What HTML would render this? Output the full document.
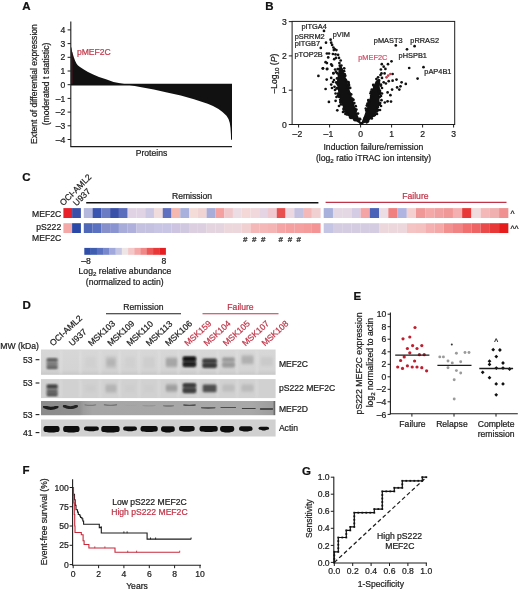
<!DOCTYPE html>
<html><head><meta charset="utf-8"><title>Figure</title>
<style>html,body{margin:0;padding:0;background:#fff;} svg{display:block;} text{font-family:'Liberation Sans', Arial, Helvetica, sans-serif;stroke-width:0.22px;}</style></head>
<body><svg width="520" height="591" viewBox="0 0 520 591">
<rect width="520" height="591" fill="#fff"/>
<text x="22.3" y="9.6" font-size="11.5" text-anchor="start" fill="#111" stroke="#111" font-weight="bold" >A</text>
<text x="265.3" y="9.6" font-size="11.5" text-anchor="start" fill="#111" stroke="#111" font-weight="bold" >B</text>
<text x="22.2" y="181.2" font-size="11.5" text-anchor="start" fill="#111" stroke="#111" font-weight="bold" >C</text>
<text x="22.4" y="309.4" font-size="11.5" text-anchor="start" fill="#111" stroke="#111" font-weight="bold" >D</text>
<text x="353.6" y="300.4" font-size="11.5" text-anchor="start" fill="#111" stroke="#111" font-weight="bold" >E</text>
<text x="22.6" y="474.4" font-size="11.5" text-anchor="start" fill="#111" stroke="#111" font-weight="bold" >F</text>
<text x="302.0" y="475.2" font-size="11.5" text-anchor="start" fill="#111" stroke="#111" font-weight="bold" >G</text>
<path d="M71,84.6 L71,47 L71.3,48 L71.6,50 L72.4,52.7 L74,57.8 L75.2,61 L76.6,63.7 L78,65.5 L80,67 L84.2,69.7 L88,71.9 L93.2,74.4 L99,76.9 L106,79.2 L113.5,81.9 L120,83.3 L127,84.6 L140,87 L153.8,89.4 L167,92.5 L180.8,95.6 L194,99.3 L207.7,103.7 L213,106 L218.5,109 L222.5,112 L226.5,115.8 L228.5,119 L229.8,123 L230.5,128 L230.9,134 L231.1,139.8 L232,139.8 L232,84.6 Z" fill="#111"/>
<path d="M71,84.6 L71,47 L71.3,48 L71.6,50 L72.4,52.7 L72.6,84.6 Z" fill="#4a1820"/>
<line x1="71.0" y1="84.6" x2="232.0" y2="84.6" stroke="#111" stroke-width="1.6" />
<line x1="70.8" y1="21.4" x2="70.8" y2="146.6" stroke="#1c1c1c" stroke-width="1.1" />
<line x1="70.3" y1="146.6" x2="232.0" y2="146.6" stroke="#1c1c1c" stroke-width="1.1" />
<line x1="67.6" y1="139.5" x2="70.8" y2="139.5" stroke="#1c1c1c" stroke-width="1" />
<text x="65.2" y="142.6" font-size="8.6" text-anchor="end" fill="#1c1c1c" stroke="#1c1c1c" font-weight="normal" >–4</text>
<line x1="67.6" y1="125.8" x2="70.8" y2="125.8" stroke="#1c1c1c" stroke-width="1" />
<text x="65.2" y="128.9" font-size="8.6" text-anchor="end" fill="#1c1c1c" stroke="#1c1c1c" font-weight="normal" >–3</text>
<line x1="67.6" y1="112.1" x2="70.8" y2="112.1" stroke="#1c1c1c" stroke-width="1" />
<text x="65.2" y="115.2" font-size="8.6" text-anchor="end" fill="#1c1c1c" stroke="#1c1c1c" font-weight="normal" >–2</text>
<line x1="67.6" y1="98.4" x2="70.8" y2="98.4" stroke="#1c1c1c" stroke-width="1" />
<text x="65.2" y="101.5" font-size="8.6" text-anchor="end" fill="#1c1c1c" stroke="#1c1c1c" font-weight="normal" >–1</text>
<line x1="67.6" y1="84.7" x2="70.8" y2="84.7" stroke="#1c1c1c" stroke-width="1" />
<text x="65.2" y="87.8" font-size="8.6" text-anchor="end" fill="#1c1c1c" stroke="#1c1c1c" font-weight="normal" >0</text>
<line x1="67.6" y1="71.0" x2="70.8" y2="71.0" stroke="#1c1c1c" stroke-width="1" />
<text x="65.2" y="74.1" font-size="8.6" text-anchor="end" fill="#1c1c1c" stroke="#1c1c1c" font-weight="normal" >1</text>
<line x1="67.6" y1="57.3" x2="70.8" y2="57.3" stroke="#1c1c1c" stroke-width="1" />
<text x="65.2" y="60.4" font-size="8.6" text-anchor="end" fill="#1c1c1c" stroke="#1c1c1c" font-weight="normal" >2</text>
<line x1="67.6" y1="43.6" x2="70.8" y2="43.6" stroke="#1c1c1c" stroke-width="1" />
<text x="65.2" y="46.7" font-size="8.6" text-anchor="end" fill="#1c1c1c" stroke="#1c1c1c" font-weight="normal" >3</text>
<line x1="67.6" y1="29.9" x2="70.8" y2="29.9" stroke="#1c1c1c" stroke-width="1" />
<text x="65.2" y="33.0" font-size="8.6" text-anchor="end" fill="#1c1c1c" stroke="#1c1c1c" font-weight="normal" >4</text>
<text x="76.9" y="55.2" font-size="8.6" text-anchor="start" fill="#c23a4c" stroke="#c23a4c" font-weight="normal" >pMEF2C</text>
<text x="151.5" y="156.2" font-size="8.6" text-anchor="middle" fill="#1c1c1c" stroke="#1c1c1c" font-weight="normal" >Proteins</text>
<text transform="translate(37.2,84.0) rotate(-90)" font-size="8.6" text-anchor="middle" fill="#1c1c1c" stroke="#1c1c1c" >Extent of differential expression</text>
<text transform="translate(48.7,84.0) rotate(-90)" font-size="8.6" text-anchor="middle" fill="#1c1c1c" stroke="#1c1c1c" >(moderated t statistic)</text>
<rect x="292.1" y="21.4" width="162.59999999999997" height="103.1" fill="none" stroke="#1c1c1c" stroke-width="1"/>
<line x1="288.8" y1="124.5" x2="292.1" y2="124.5" stroke="#1c1c1c" stroke-width="1" />
<text x="286.8" y="127.6" font-size="8.6" text-anchor="end" fill="#1c1c1c" stroke="#1c1c1c" font-weight="normal" >0</text>
<line x1="288.8" y1="90.2" x2="292.1" y2="90.2" stroke="#1c1c1c" stroke-width="1" />
<text x="286.8" y="93.3" font-size="8.6" text-anchor="end" fill="#1c1c1c" stroke="#1c1c1c" font-weight="normal" >1</text>
<line x1="288.8" y1="55.9" x2="292.1" y2="55.9" stroke="#1c1c1c" stroke-width="1" />
<text x="286.8" y="59.0" font-size="8.6" text-anchor="end" fill="#1c1c1c" stroke="#1c1c1c" font-weight="normal" >2</text>
<line x1="288.8" y1="21.6" x2="292.1" y2="21.6" stroke="#1c1c1c" stroke-width="1" />
<text x="286.8" y="24.7" font-size="8.6" text-anchor="end" fill="#1c1c1c" stroke="#1c1c1c" font-weight="normal" >3</text>
<line x1="298.6" y1="124.5" x2="298.6" y2="127.5" stroke="#1c1c1c" stroke-width="1" />
<text x="297.4" y="136.9" font-size="8.6" text-anchor="middle" fill="#1c1c1c" stroke="#1c1c1c" font-weight="normal" >–2</text>
<line x1="329.6" y1="124.5" x2="329.6" y2="127.5" stroke="#1c1c1c" stroke-width="1" />
<text x="328.4" y="136.9" font-size="8.6" text-anchor="middle" fill="#1c1c1c" stroke="#1c1c1c" font-weight="normal" >–1</text>
<line x1="360.6" y1="124.5" x2="360.6" y2="127.5" stroke="#1c1c1c" stroke-width="1" />
<text x="360.6" y="136.9" font-size="8.6" text-anchor="middle" fill="#1c1c1c" stroke="#1c1c1c" font-weight="normal" >0</text>
<line x1="391.6" y1="124.5" x2="391.6" y2="127.5" stroke="#1c1c1c" stroke-width="1" />
<text x="391.6" y="136.9" font-size="8.6" text-anchor="middle" fill="#1c1c1c" stroke="#1c1c1c" font-weight="normal" >1</text>
<line x1="422.6" y1="124.5" x2="422.6" y2="127.5" stroke="#1c1c1c" stroke-width="1" />
<text x="422.6" y="136.9" font-size="8.6" text-anchor="middle" fill="#1c1c1c" stroke="#1c1c1c" font-weight="normal" >2</text>
<line x1="453.6" y1="124.5" x2="453.6" y2="127.5" stroke="#1c1c1c" stroke-width="1" />
<text x="453.6" y="136.9" font-size="8.6" text-anchor="middle" fill="#1c1c1c" stroke="#1c1c1c" font-weight="normal" >3</text>
<text x="373.4" y="149.6" font-size="8.6" text-anchor="middle" fill="#1c1c1c" stroke="#1c1c1c" font-weight="normal" >Induction failure/remission</text>
<text x="373.6" y="160.7" font-size="8.6" text-anchor="middle" fill="#1c1c1c" stroke="#1c1c1c" font-weight="normal" >(log<tspan font-size="6.2" dy="2">2</tspan><tspan dy="-2"> ratio iTRAC ion intensity)</tspan></text>
<text transform="translate(276.9,73.6) rotate(-90)" font-size="8.6" text-anchor="middle" fill="#1c1c1c" stroke="#1c1c1c">–Log<tspan font-size="6.2" dy="1.8">10</tspan><tspan dy="-1.8"> (</tspan><tspan font-style="italic">P</tspan>)</text>
<path d="M361.3,124.4 L358,122.6 L347.9,115.9 L341.8,104.7 L338.4,93.5 L336.8,82.3 L338.4,71.2 L339.5,66 L341.5,66 L343.5,71.2 L347.4,82.3 L350.7,93.5 L354.1,104.7 L358,115.9 L361,122.8 L361.6,124.4 Z" fill="#111"/>
<path d="M360.6,124.4 L364.1,115.9 L368,104.7 L370.8,93.5 L373.6,85.7 L375.9,80.7 L378,79.5 L380.3,81.8 L379.8,85.7 L379.2,93.5 L379.8,104.7 L374.8,115.9 L367,122 L361.2,124.6 Z" fill="#111"/>
<g><circle cx="336.8" cy="88.5" r="1.35" fill="#111"/><circle cx="350.3" cy="117.1" r="1.35" fill="#111"/><circle cx="351.8" cy="117.3" r="1.35" fill="#111"/><circle cx="336.9" cy="73.1" r="1.35" fill="#111"/><circle cx="338.6" cy="74.4" r="1.35" fill="#111"/><circle cx="340.9" cy="101.9" r="1.35" fill="#111"/><circle cx="344.2" cy="74.9" r="1.35" fill="#111"/><circle cx="353.8" cy="118.8" r="1.35" fill="#111"/><circle cx="343.8" cy="109.7" r="1.35" fill="#111"/><circle cx="352.9" cy="103.5" r="1.35" fill="#111"/><circle cx="346.8" cy="81.5" r="1.35" fill="#111"/><circle cx="350.2" cy="117.4" r="1.35" fill="#111"/><circle cx="348.5" cy="86.0" r="1.35" fill="#111"/><circle cx="344.7" cy="74.4" r="1.35" fill="#111"/><circle cx="353.3" cy="100.0" r="1.35" fill="#111"/><circle cx="344.4" cy="74.4" r="1.35" fill="#111"/><circle cx="349.9" cy="93.7" r="1.35" fill="#111"/><circle cx="346.2" cy="113.7" r="1.35" fill="#111"/><circle cx="344.3" cy="108.1" r="1.35" fill="#111"/><circle cx="348.8" cy="85.2" r="1.35" fill="#111"/><circle cx="355.7" cy="111.1" r="1.35" fill="#111"/><circle cx="345.3" cy="75.8" r="1.35" fill="#111"/><circle cx="355.7" cy="106.2" r="1.35" fill="#111"/><circle cx="347.0" cy="85.0" r="1.35" fill="#111"/><circle cx="348.6" cy="83.1" r="1.35" fill="#111"/><circle cx="338.1" cy="93.6" r="1.35" fill="#111"/><circle cx="355.5" cy="120.2" r="1.35" fill="#111"/><circle cx="345.4" cy="113.9" r="1.35" fill="#111"/><circle cx="345.1" cy="111.6" r="1.35" fill="#111"/><circle cx="355.0" cy="110.0" r="1.35" fill="#111"/><circle cx="344.1" cy="71.2" r="1.35" fill="#111"/><circle cx="355.1" cy="109.0" r="1.35" fill="#111"/><circle cx="337.9" cy="84.8" r="1.35" fill="#111"/><circle cx="343.6" cy="108.7" r="1.35" fill="#111"/><circle cx="340.2" cy="99.8" r="1.35" fill="#111"/><circle cx="337.9" cy="95.7" r="1.35" fill="#111"/><circle cx="337.0" cy="83.4" r="1.35" fill="#111"/><circle cx="349.0" cy="88.0" r="1.35" fill="#111"/><circle cx="347.4" cy="86.9" r="1.35" fill="#111"/><circle cx="353.2" cy="99.6" r="1.35" fill="#111"/><circle cx="337.0" cy="78.4" r="1.35" fill="#111"/><circle cx="345.8" cy="79.8" r="1.35" fill="#111"/><circle cx="340.4" cy="102.2" r="1.35" fill="#111"/><circle cx="351.1" cy="118.0" r="1.35" fill="#111"/><circle cx="347.1" cy="113.9" r="1.35" fill="#111"/><circle cx="356.4" cy="109.6" r="1.35" fill="#111"/><circle cx="339.2" cy="96.9" r="1.35" fill="#111"/><circle cx="346.9" cy="113.8" r="1.35" fill="#111"/><circle cx="338.6" cy="69.0" r="1.35" fill="#111"/><circle cx="347.0" cy="114.4" r="1.35" fill="#111"/><circle cx="353.4" cy="103.8" r="1.35" fill="#111"/><circle cx="359.7" cy="118.9" r="1.35" fill="#111"/><circle cx="341.8" cy="69.7" r="1.35" fill="#111"/><circle cx="361.7" cy="123.3" r="1.35" fill="#111"/><circle cx="338.9" cy="95.3" r="1.35" fill="#111"/><circle cx="352.1" cy="98.5" r="1.35" fill="#111"/><circle cx="336.9" cy="88.2" r="1.35" fill="#111"/><circle cx="360.8" cy="123.5" r="1.35" fill="#111"/><circle cx="354.3" cy="103.0" r="1.35" fill="#111"/><circle cx="341.4" cy="65.5" r="1.35" fill="#111"/><circle cx="354.5" cy="120.0" r="1.35" fill="#111"/><circle cx="350.2" cy="87.9" r="1.35" fill="#111"/><circle cx="360.1" cy="119.2" r="1.35" fill="#111"/><circle cx="336.2" cy="82.3" r="1.35" fill="#111"/><circle cx="340.9" cy="104.4" r="1.35" fill="#111"/><circle cx="358.0" cy="113.6" r="1.35" fill="#111"/><circle cx="348.4" cy="82.1" r="1.35" fill="#111"/><circle cx="348.9" cy="84.7" r="1.35" fill="#111"/><circle cx="351.2" cy="94.4" r="1.35" fill="#111"/><circle cx="352.3" cy="100.7" r="1.35" fill="#111"/><circle cx="365.0" cy="118.1" r="1.35" fill="#111"/><circle cx="366.7" cy="119.8" r="1.35" fill="#111"/><circle cx="367.3" cy="105.3" r="1.35" fill="#111"/><circle cx="374.8" cy="115.0" r="1.35" fill="#111"/><circle cx="365.2" cy="117.3" r="1.35" fill="#111"/><circle cx="378.7" cy="89.9" r="1.35" fill="#111"/><circle cx="365.6" cy="118.4" r="1.35" fill="#111"/><circle cx="366.7" cy="122.3" r="1.35" fill="#111"/><circle cx="374.1" cy="115.5" r="1.35" fill="#111"/><circle cx="371.8" cy="89.6" r="1.35" fill="#111"/><circle cx="371.0" cy="91.7" r="1.35" fill="#111"/><circle cx="368.1" cy="120.8" r="1.35" fill="#111"/><circle cx="380.0" cy="94.0" r="1.35" fill="#111"/><circle cx="367.8" cy="121.4" r="1.35" fill="#111"/><circle cx="378.6" cy="88.4" r="1.35" fill="#111"/><circle cx="368.3" cy="100.0" r="1.35" fill="#111"/><circle cx="369.0" cy="100.8" r="1.35" fill="#111"/><circle cx="379.0" cy="91.7" r="1.35" fill="#111"/><circle cx="379.9" cy="90.7" r="1.35" fill="#111"/><circle cx="378.8" cy="91.5" r="1.35" fill="#111"/><circle cx="376.8" cy="111.5" r="1.35" fill="#111"/><circle cx="378.1" cy="110.2" r="1.35" fill="#111"/><circle cx="379.4" cy="96.9" r="1.35" fill="#111"/><circle cx="379.7" cy="104.6" r="1.35" fill="#111"/><circle cx="380.9" cy="84.6" r="1.35" fill="#111"/><circle cx="371.8" cy="118.5" r="1.35" fill="#111"/><circle cx="380.2" cy="92.6" r="1.35" fill="#111"/><circle cx="367.5" cy="103.5" r="1.35" fill="#111"/><circle cx="365.8" cy="108.6" r="1.35" fill="#111"/><circle cx="380.2" cy="103.1" r="1.35" fill="#111"/><circle cx="369.1" cy="102.3" r="1.35" fill="#111"/><circle cx="369.2" cy="104.0" r="1.35" fill="#111"/><circle cx="371.1" cy="95.8" r="1.35" fill="#111"/><circle cx="380.9" cy="85.7" r="1.35" fill="#111"/><circle cx="368.7" cy="101.4" r="1.35" fill="#111"/><circle cx="373.2" cy="84.9" r="1.35" fill="#111"/><circle cx="377.8" cy="107.2" r="1.35" fill="#111"/><circle cx="378.5" cy="80.7" r="1.35" fill="#111"/><circle cx="379.5" cy="97.1" r="1.35" fill="#111"/><circle cx="365.3" cy="118.1" r="1.35" fill="#111"/><circle cx="366.9" cy="105.6" r="1.35" fill="#111"/><circle cx="376.1" cy="111.2" r="1.35" fill="#111"/><circle cx="379.1" cy="80.4" r="1.35" fill="#111"/><circle cx="370.5" cy="93.3" r="1.35" fill="#111"/><circle cx="379.6" cy="92.1" r="1.35" fill="#111"/><circle cx="366.3" cy="110.6" r="1.35" fill="#111"/><circle cx="367.2" cy="109.7" r="1.35" fill="#111"/><circle cx="374.8" cy="114.7" r="1.35" fill="#111"/><circle cx="366.9" cy="109.8" r="1.35" fill="#111"/><circle cx="373.9" cy="86.1" r="1.35" fill="#111"/><circle cx="324.0" cy="30.9" r="1.35" fill="#111"/><circle cx="330.6" cy="39.7" r="1.35" fill="#111"/><circle cx="326.0" cy="42.7" r="1.35" fill="#111"/><circle cx="331.2" cy="42.7" r="1.35" fill="#111"/><circle cx="332.1" cy="44.9" r="1.35" fill="#111"/><circle cx="320.8" cy="47.9" r="1.35" fill="#111"/><circle cx="333.4" cy="47.5" r="1.35" fill="#111"/><circle cx="334.7" cy="49.2" r="1.35" fill="#111"/><circle cx="336.4" cy="50.1" r="1.35" fill="#111"/><circle cx="333.8" cy="50.1" r="1.35" fill="#111"/><circle cx="326.9" cy="53.5" r="1.35" fill="#111"/><circle cx="329.0" cy="53.5" r="1.35" fill="#111"/><circle cx="332.9" cy="54.0" r="1.35" fill="#111"/><circle cx="335.5" cy="54.4" r="1.35" fill="#111"/><circle cx="338.1" cy="54.8" r="1.35" fill="#111"/><circle cx="328.2" cy="57.4" r="1.35" fill="#111"/><circle cx="334.2" cy="59.2" r="1.35" fill="#111"/><circle cx="336.0" cy="57.9" r="1.35" fill="#111"/><circle cx="339.0" cy="57.9" r="1.35" fill="#111"/><circle cx="340.7" cy="60.5" r="1.35" fill="#111"/><circle cx="325.6" cy="62.2" r="1.35" fill="#111"/><circle cx="326.9" cy="63.1" r="1.35" fill="#111"/><circle cx="331.2" cy="64.4" r="1.35" fill="#111"/><circle cx="332.1" cy="65.7" r="1.35" fill="#111"/><circle cx="339.4" cy="63.1" r="1.35" fill="#111"/><circle cx="339.8" cy="65.7" r="1.35" fill="#111"/><circle cx="323.0" cy="68.3" r="1.35" fill="#111"/><circle cx="326.9" cy="69.1" r="1.35" fill="#111"/><circle cx="335.1" cy="69.5" r="1.35" fill="#111"/><circle cx="337.7" cy="69.1" r="1.35" fill="#111"/><circle cx="344.2" cy="68.3" r="1.35" fill="#111"/><circle cx="333.4" cy="73.0" r="1.35" fill="#111"/><circle cx="336.0" cy="71.7" r="1.35" fill="#111"/><circle cx="341.1" cy="72.1" r="1.35" fill="#111"/><circle cx="342.4" cy="72.1" r="1.35" fill="#111"/><circle cx="322.8" cy="68.4" r="1.35" fill="#111"/><circle cx="327.3" cy="68.9" r="1.35" fill="#111"/><circle cx="333.4" cy="73.4" r="1.35" fill="#111"/><circle cx="326.7" cy="79.6" r="1.35" fill="#111"/><circle cx="331.2" cy="77.9" r="1.35" fill="#111"/><circle cx="331.2" cy="84.6" r="1.35" fill="#111"/><circle cx="325.6" cy="89.0" r="1.35" fill="#111"/><circle cx="334.5" cy="86.8" r="1.35" fill="#111"/><circle cx="335.6" cy="93.5" r="1.35" fill="#111"/><circle cx="328.9" cy="101.9" r="1.35" fill="#111"/><circle cx="335.6" cy="100.8" r="1.35" fill="#111"/><circle cx="337.3" cy="110.3" r="1.35" fill="#111"/><circle cx="318.4" cy="75.9" r="1.35" fill="#111"/><circle cx="334.0" cy="80.0" r="1.35" fill="#111"/><circle cx="335.0" cy="90.0" r="1.35" fill="#111"/><circle cx="336.5" cy="97.0" r="1.35" fill="#111"/><circle cx="339.0" cy="106.0" r="1.35" fill="#111"/><circle cx="343.0" cy="112.0" r="1.35" fill="#111"/><circle cx="333.0" cy="82.0" r="1.35" fill="#111"/><circle cx="332.0" cy="88.0" r="1.35" fill="#111"/><circle cx="381.8" cy="64.2" r="1.35" fill="#111"/><circle cx="388.0" cy="64.2" r="1.35" fill="#111"/><circle cx="391.5" cy="61.3" r="1.35" fill="#111"/><circle cx="383.7" cy="66.7" r="1.35" fill="#111"/><circle cx="380.9" cy="69.5" r="1.35" fill="#111"/><circle cx="385.4" cy="68.9" r="1.35" fill="#111"/><circle cx="381.5" cy="73.4" r="1.35" fill="#111"/><circle cx="384.6" cy="73.4" r="1.35" fill="#111"/><circle cx="392.6" cy="74.0" r="1.35" fill="#111"/><circle cx="378.1" cy="77.3" r="1.35" fill="#111"/><circle cx="376.4" cy="79.0" r="1.35" fill="#111"/><circle cx="382.0" cy="77.9" r="1.35" fill="#111"/><circle cx="383.7" cy="82.3" r="1.35" fill="#111"/><circle cx="385.9" cy="83.5" r="1.35" fill="#111"/><circle cx="388.7" cy="81.2" r="1.35" fill="#111"/><circle cx="392.6" cy="80.7" r="1.35" fill="#111"/><circle cx="396.5" cy="79.6" r="1.35" fill="#111"/><circle cx="401.6" cy="82.3" r="1.35" fill="#111"/><circle cx="397.1" cy="87.4" r="1.35" fill="#111"/><circle cx="400.5" cy="86.3" r="1.35" fill="#111"/><circle cx="399.3" cy="89.6" r="1.35" fill="#111"/><circle cx="392.1" cy="89.6" r="1.35" fill="#111"/><circle cx="382.0" cy="93.5" r="1.35" fill="#111"/><circle cx="387.6" cy="92.4" r="1.35" fill="#111"/><circle cx="390.4" cy="95.2" r="1.35" fill="#111"/><circle cx="381.5" cy="100.2" r="1.35" fill="#111"/><circle cx="384.8" cy="102.5" r="1.35" fill="#111"/><circle cx="387.6" cy="101.3" r="1.35" fill="#111"/><circle cx="391.0" cy="101.6" r="1.35" fill="#111"/><circle cx="381.0" cy="106.0" r="1.35" fill="#111"/><circle cx="380.0" cy="110.0" r="1.35" fill="#111"/><circle cx="377.0" cy="114.0" r="1.35" fill="#111"/><circle cx="382.0" cy="88.0" r="1.35" fill="#111"/><circle cx="381.0" cy="96.0" r="1.35" fill="#111"/><circle cx="380.5" cy="75.0" r="1.35" fill="#111"/><circle cx="377.5" cy="82.0" r="1.35" fill="#111"/><circle cx="395.8" cy="45.4" r="1.35" fill="#111"/><circle cx="407.0" cy="49.3" r="1.35" fill="#111"/><circle cx="414.6" cy="46.2" r="1.35" fill="#111"/><circle cx="409.2" cy="68.0" r="1.35" fill="#111"/><circle cx="423.5" cy="67.2" r="1.35" fill="#111"/><circle cx="417.6" cy="78.6" r="1.35" fill="#111"/><circle cx="405.8" cy="83.9" r="1.35" fill="#111"/><circle cx="388.2" cy="75.6" r="1.35" fill="#c0404e"/><circle cx="390.4" cy="74.0" r="1.35" fill="#c0404e"/><circle cx="386.5" cy="77.3" r="1.35" fill="#c0404e"/></g>
<text x="301.4" y="28.8" font-size="7.4" text-anchor="start" fill="#1c1c1c" stroke="#1c1c1c" font-weight="normal" >pITGA4</text>
<text x="294.7" y="38.5" font-size="7.4" text-anchor="start" fill="#1c1c1c" stroke="#1c1c1c" font-weight="normal" >pSRRM2</text>
<text x="294.7" y="46.0" font-size="7.4" text-anchor="start" fill="#1c1c1c" stroke="#1c1c1c" font-weight="normal" >pITGB7</text>
<text x="294.5" y="57.2" font-size="7.4" text-anchor="start" fill="#1c1c1c" stroke="#1c1c1c" font-weight="normal" >pTOP2B</text>
<text x="332.7" y="37.2" font-size="7.4" text-anchor="start" fill="#1c1c1c" stroke="#1c1c1c" font-weight="normal" >pVIM</text>
<text x="373.8" y="43.1" font-size="7.4" text-anchor="start" fill="#1c1c1c" stroke="#1c1c1c" font-weight="normal" >pMAST3</text>
<text x="410.3" y="43.1" font-size="7.4" text-anchor="start" fill="#1c1c1c" stroke="#1c1c1c" font-weight="normal" >pRRAS2</text>
<text x="398.6" y="57.7" font-size="7.4" text-anchor="start" fill="#1c1c1c" stroke="#1c1c1c" font-weight="normal" >pHSPB1</text>
<text x="424.3" y="73.8" font-size="7.4" text-anchor="start" fill="#1c1c1c" stroke="#1c1c1c" font-weight="normal" >pAP4B1</text>
<text x="358.2" y="60.4" font-size="7.4" text-anchor="start" fill="#d2506a" stroke="#d2506a" font-weight="normal" >pMEF2C</text>
<rect x="63.40" y="208.10" width="8.75" height="9.90" fill="#e8202a" />
<rect x="72.10" y="208.10" width="8.80" height="9.90" fill="#3a50a8" />
<rect x="83.80" y="208.10" width="8.82" height="9.90" fill="#b4b8dc" />
<rect x="92.57" y="208.10" width="8.82" height="9.90" fill="#3a55b0" />
<rect x="101.34" y="208.10" width="8.82" height="9.90" fill="#6a7cc4" />
<rect x="110.11" y="208.10" width="8.82" height="9.90" fill="#3850a8" />
<rect x="118.88" y="208.10" width="8.82" height="9.90" fill="#5a6cbc" />
<rect x="127.65" y="208.10" width="8.82" height="9.90" fill="#e0d4e4" />
<rect x="136.42" y="208.10" width="8.82" height="9.90" fill="#e0d4e4" />
<rect x="145.19" y="208.10" width="8.82" height="9.90" fill="#ccc8e4" />
<rect x="153.96" y="208.10" width="8.82" height="9.90" fill="#f0dcdc" />
<rect x="162.73" y="208.10" width="8.82" height="9.90" fill="#6070c0" />
<rect x="171.50" y="208.10" width="8.82" height="9.90" fill="#f4b8b0" />
<rect x="180.27" y="208.10" width="8.82" height="9.90" fill="#a8b0dc" />
<rect x="189.04" y="208.10" width="8.82" height="9.90" fill="#f4dcd8" />
<rect x="197.81" y="208.10" width="8.82" height="9.90" fill="#f0d4d4" />
<rect x="206.58" y="208.10" width="8.82" height="9.90" fill="#a8acd8" />
<rect x="215.35" y="208.10" width="8.82" height="9.90" fill="#f4a0a0" />
<rect x="224.12" y="208.10" width="8.82" height="9.90" fill="#f0c8cc" />
<rect x="232.89" y="208.10" width="8.82" height="9.90" fill="#ecdce4" />
<rect x="241.66" y="208.10" width="8.82" height="9.90" fill="#f4d8d8" />
<rect x="250.43" y="208.10" width="8.82" height="9.90" fill="#f0d8dc" />
<rect x="259.20" y="208.10" width="8.82" height="9.90" fill="#e4d4e4" />
<rect x="267.97" y="208.10" width="8.82" height="9.90" fill="#f0c8d0" />
<rect x="276.74" y="208.10" width="8.82" height="9.90" fill="#e85050" />
<rect x="285.51" y="208.10" width="8.82" height="9.90" fill="#ecd8e0" />
<rect x="294.28" y="208.10" width="8.82" height="9.90" fill="#c4c0e0" />
<rect x="303.05" y="208.10" width="8.82" height="9.90" fill="#f4b8b8" />
<rect x="311.82" y="208.10" width="8.82" height="9.90" fill="#f0d0d0" />
<rect x="323.70" y="208.10" width="9.28" height="9.90" fill="#a8b0dc" />
<rect x="332.93" y="208.10" width="9.28" height="9.90" fill="#e4d8e4" />
<rect x="342.16" y="208.10" width="9.28" height="9.90" fill="#e4d8e4" />
<rect x="351.39" y="208.10" width="9.28" height="9.90" fill="#d4cce4" />
<rect x="360.62" y="208.10" width="9.28" height="9.90" fill="#f4a4a4" />
<rect x="369.85" y="208.10" width="9.28" height="9.90" fill="#4a62b8" />
<rect x="379.08" y="208.10" width="9.28" height="9.90" fill="#ecdce4" />
<rect x="388.31" y="208.10" width="9.28" height="9.90" fill="#f08080" />
<rect x="397.54" y="208.10" width="9.28" height="9.90" fill="#b0b4e0" />
<rect x="406.77" y="208.10" width="9.28" height="9.90" fill="#f4d0d0" />
<rect x="416.00" y="208.10" width="9.28" height="9.90" fill="#f09898" />
<rect x="425.23" y="208.10" width="9.28" height="9.90" fill="#f4a8a8" />
<rect x="434.46" y="208.10" width="9.28" height="9.90" fill="#f0a0a0" />
<rect x="443.69" y="208.10" width="9.28" height="9.90" fill="#f09898" />
<rect x="452.92" y="208.10" width="9.28" height="9.90" fill="#f4b0b0" />
<rect x="462.15" y="208.10" width="9.28" height="9.90" fill="#e83838" />
<rect x="471.38" y="208.10" width="9.28" height="9.90" fill="#f0dcdc" />
<rect x="480.61" y="208.10" width="9.28" height="9.90" fill="#f4b8b8" />
<rect x="489.84" y="208.10" width="9.28" height="9.90" fill="#f0b0b0" />
<rect x="499.07" y="208.10" width="9.28" height="9.90" fill="#f09090" />
<rect x="63.40" y="223.20" width="8.75" height="9.80" fill="#f4a8a8" />
<rect x="72.10" y="223.20" width="8.80" height="9.80" fill="#2a48a8" />
<rect x="83.80" y="223.20" width="8.82" height="9.80" fill="#5068b8" />
<rect x="92.57" y="223.20" width="8.82" height="9.80" fill="#5a70c0" />
<rect x="101.34" y="223.20" width="8.82" height="9.80" fill="#8890cc" />
<rect x="110.11" y="223.20" width="8.82" height="9.80" fill="#8a94d0" />
<rect x="118.88" y="223.20" width="8.82" height="9.80" fill="#a8acd8" />
<rect x="127.65" y="223.20" width="8.82" height="9.80" fill="#b0b0dc" />
<rect x="136.42" y="223.20" width="8.82" height="9.80" fill="#c4c0e0" />
<rect x="145.19" y="223.20" width="8.82" height="9.80" fill="#c4c0e0" />
<rect x="153.96" y="223.20" width="8.82" height="9.80" fill="#c8c4e4" />
<rect x="162.73" y="223.20" width="8.82" height="9.80" fill="#c8c4e4" />
<rect x="171.50" y="223.20" width="8.82" height="9.80" fill="#ccc4e0" />
<rect x="180.27" y="223.20" width="8.82" height="9.80" fill="#d0c8e0" />
<rect x="189.04" y="223.20" width="8.82" height="9.80" fill="#dcd0e0" />
<rect x="197.81" y="223.20" width="8.82" height="9.80" fill="#dcd0e0" />
<rect x="206.58" y="223.20" width="8.82" height="9.80" fill="#e4d4e0" />
<rect x="215.35" y="223.20" width="8.82" height="9.80" fill="#e4d4e0" />
<rect x="224.12" y="223.20" width="8.82" height="9.80" fill="#ecd8dc" />
<rect x="232.89" y="223.20" width="8.82" height="9.80" fill="#ecd8dc" />
<rect x="241.66" y="223.20" width="8.82" height="9.80" fill="#f0d0d0" />
<rect x="250.43" y="223.20" width="8.82" height="9.80" fill="#f4b8b8" />
<rect x="259.20" y="223.20" width="8.82" height="9.80" fill="#f4b8b8" />
<rect x="267.97" y="223.20" width="8.82" height="9.80" fill="#f4b4b4" />
<rect x="276.74" y="223.20" width="8.82" height="9.80" fill="#f4a4a4" />
<rect x="285.51" y="223.20" width="8.82" height="9.80" fill="#f4a0a0" />
<rect x="294.28" y="223.20" width="8.82" height="9.80" fill="#f4a0a0" />
<rect x="303.05" y="223.20" width="8.82" height="9.80" fill="#f49c9c" />
<rect x="311.82" y="223.20" width="8.82" height="9.80" fill="#f49494" />
<rect x="323.70" y="223.20" width="9.28" height="9.80" fill="#c4c4e4" />
<rect x="332.93" y="223.20" width="9.28" height="9.80" fill="#d4cce0" />
<rect x="342.16" y="223.20" width="9.28" height="9.80" fill="#d4cce0" />
<rect x="351.39" y="223.20" width="9.28" height="9.80" fill="#d4cce0" />
<rect x="360.62" y="223.20" width="9.28" height="9.80" fill="#d4cce0" />
<rect x="369.85" y="223.20" width="9.28" height="9.80" fill="#d4cce0" />
<rect x="379.08" y="223.20" width="9.28" height="9.80" fill="#ecd8dc" />
<rect x="388.31" y="223.20" width="9.28" height="9.80" fill="#ecd8dc" />
<rect x="397.54" y="223.20" width="9.28" height="9.80" fill="#ecd8dc" />
<rect x="406.77" y="223.20" width="9.28" height="9.80" fill="#f4c4c4" />
<rect x="416.00" y="223.20" width="9.28" height="9.80" fill="#f4c0c0" />
<rect x="425.23" y="223.20" width="9.28" height="9.80" fill="#f4b0b0" />
<rect x="434.46" y="223.20" width="9.28" height="9.80" fill="#f4a8a8" />
<rect x="443.69" y="223.20" width="9.28" height="9.80" fill="#f29090" />
<rect x="452.92" y="223.20" width="9.28" height="9.80" fill="#f08484" />
<rect x="462.15" y="223.20" width="9.28" height="9.80" fill="#f07070" />
<rect x="471.38" y="223.20" width="9.28" height="9.80" fill="#ee6464" />
<rect x="480.61" y="223.20" width="9.28" height="9.80" fill="#ea4a4a" />
<rect x="489.84" y="223.20" width="9.28" height="9.80" fill="#e83838" />
<rect x="499.07" y="223.20" width="9.28" height="9.80" fill="#e61c1c" />
<text x="61.2" y="216.5" font-size="8.6" text-anchor="end" fill="#1c1c1c" stroke="#1c1c1c" font-weight="normal" >MEF2C</text>
<text x="61.2" y="230.2" font-size="8.6" text-anchor="end" fill="#1c1c1c" stroke="#1c1c1c" font-weight="normal" >pS222</text>
<text x="61.2" y="240.7" font-size="8.6" text-anchor="end" fill="#1c1c1c" stroke="#1c1c1c" font-weight="normal" >MEF2C</text>
<text transform="translate(63.3,206.3) rotate(-45)" font-size="8.6" text-anchor="start" fill="#1c1c1c" stroke="#1c1c1c" >OCI-AML2</text>
<text transform="translate(76.5,206.5) rotate(-45)" font-size="8.6" text-anchor="start" fill="#1c1c1c" stroke="#1c1c1c" >U937</text>
<text x="192.0" y="198.5" font-size="8.6" text-anchor="middle" fill="#1c1c1c" stroke="#1c1c1c" font-weight="normal" >Remission</text>
<line x1="86.2" y1="202.7" x2="318.4" y2="202.7" stroke="#111" stroke-width="1.5" />
<text x="415.4" y="198.5" font-size="8.6" text-anchor="middle" fill="#bf3448" stroke="#bf3448" font-weight="normal" >Failure</text>
<line x1="325.6" y1="202.4" x2="506.5" y2="202.4" stroke="#bf3448" stroke-width="1.4" />
<text x="245.2" y="242.4" font-size="8" text-anchor="middle" fill="#333" stroke="#333" font-weight="bold" >#</text>
<text x="254.3" y="242.4" font-size="8" text-anchor="middle" fill="#333" stroke="#333" font-weight="bold" >#</text>
<text x="263.2" y="242.4" font-size="8" text-anchor="middle" fill="#333" stroke="#333" font-weight="bold" >#</text>
<text x="280.8" y="242.4" font-size="8" text-anchor="middle" fill="#333" stroke="#333" font-weight="bold" >#</text>
<text x="289.9" y="242.4" font-size="8" text-anchor="middle" fill="#333" stroke="#333" font-weight="bold" >#</text>
<text x="298.8" y="242.4" font-size="8" text-anchor="middle" fill="#333" stroke="#333" font-weight="bold" >#</text>
<text x="510.6" y="217.0" font-size="8.6" text-anchor="start" fill="#1c1c1c" stroke="#1c1c1c" font-weight="normal" >^</text>
<text x="510.4" y="231.7" font-size="8.6" text-anchor="start" fill="#1c1c1c" stroke="#1c1c1c" font-weight="normal" >^^</text>
<rect x="84.30" y="247.90" width="6.55" height="6.90" fill="#2f4ea8" />
<rect x="90.55" y="247.90" width="6.55" height="6.90" fill="#3f5eb0" />
<rect x="96.81" y="247.90" width="6.55" height="6.90" fill="#5a70c0" />
<rect x="103.06" y="247.90" width="6.55" height="6.90" fill="#7888cc" />
<rect x="109.32" y="247.90" width="6.55" height="6.90" fill="#a0a8dc" />
<rect x="115.57" y="247.90" width="6.55" height="6.90" fill="#c4c6e4" />
<rect x="121.82" y="247.90" width="6.55" height="6.90" fill="#eee6e6" />
<rect x="128.08" y="247.90" width="6.55" height="6.90" fill="#f4c8c8" />
<rect x="134.33" y="247.90" width="6.55" height="6.90" fill="#f4a8a8" />
<rect x="140.58" y="247.90" width="6.55" height="6.90" fill="#f08888" />
<rect x="146.84" y="247.90" width="6.55" height="6.90" fill="#ec5858" />
<rect x="153.09" y="247.90" width="6.55" height="6.90" fill="#e83838" />
<rect x="159.35" y="247.90" width="6.55" height="6.90" fill="#e61e22" />
<text x="86.0" y="264.1" font-size="8.6" text-anchor="middle" fill="#1c1c1c" stroke="#1c1c1c" font-weight="normal" >–8</text>
<text x="164.0" y="264.1" font-size="8.6" text-anchor="middle" fill="#1c1c1c" stroke="#1c1c1c" font-weight="normal" >8</text>
<text x="125.0" y="274.4" font-size="8.6" text-anchor="middle" fill="#1c1c1c" stroke="#1c1c1c" font-weight="normal" >Log<tspan font-size="6.2" dy="2">2</tspan><tspan dy="-2"> relative abundance</tspan></text>
<text x="124.7" y="285.4" font-size="8.6" text-anchor="middle" fill="#1c1c1c" stroke="#1c1c1c" font-weight="normal" >(normalized to actin)</text>
<text transform="translate(53.1,346.6) rotate(-43)" font-size="8.6" text-anchor="start" fill="#1c1c1c" stroke="#1c1c1c" >OCI-AML2</text>
<text transform="translate(72.3,346.6) rotate(-43)" font-size="8.6" text-anchor="start" fill="#1c1c1c" stroke="#1c1c1c" >U937</text>
<text transform="translate(91.6,346.6) rotate(-43)" font-size="8.6" text-anchor="start" fill="#1c1c1c" stroke="#1c1c1c" >MSK103</text>
<text transform="translate(110.8,346.6) rotate(-43)" font-size="8.6" text-anchor="start" fill="#1c1c1c" stroke="#1c1c1c" >MSK109</text>
<text transform="translate(130.1,346.6) rotate(-43)" font-size="8.6" text-anchor="start" fill="#1c1c1c" stroke="#1c1c1c" >MSK110</text>
<text transform="translate(149.3,346.6) rotate(-43)" font-size="8.6" text-anchor="start" fill="#1c1c1c" stroke="#1c1c1c" >MSK113</text>
<text transform="translate(168.6,346.6) rotate(-43)" font-size="8.6" text-anchor="start" fill="#1c1c1c" stroke="#1c1c1c" >MSK106</text>
<text transform="translate(187.8,346.6) rotate(-43)" font-size="8.6" text-anchor="start" fill="#bf3448" stroke="#bf3448" >MSK159</text>
<text transform="translate(207.1,346.6) rotate(-43)" font-size="8.6" text-anchor="start" fill="#bf3448" stroke="#bf3448" >MSK104</text>
<text transform="translate(226.3,346.6) rotate(-43)" font-size="8.6" text-anchor="start" fill="#bf3448" stroke="#bf3448" >MSK105</text>
<text transform="translate(245.6,346.6) rotate(-43)" font-size="8.6" text-anchor="start" fill="#bf3448" stroke="#bf3448" >MSK107</text>
<text transform="translate(264.9,346.6) rotate(-43)" font-size="8.6" text-anchor="start" fill="#bf3448" stroke="#bf3448" >MSK108</text>
<text x="143.4" y="309.8" font-size="8.6" text-anchor="middle" fill="#1c1c1c" stroke="#1c1c1c" font-weight="normal" >Remission</text>
<line x1="106.0" y1="313.7" x2="181.0" y2="313.7" stroke="#1c1c1c" stroke-width="1.1" />
<text x="240.5" y="309.8" font-size="8.6" text-anchor="middle" fill="#bf3448" stroke="#bf3448" font-weight="normal" >Failure</text>
<line x1="202.5" y1="313.7" x2="278.5" y2="313.7" stroke="#bf3448" stroke-width="1.1" />
<text x="0.3" y="348.9" font-size="8.6" text-anchor="start" fill="#1c1c1c" stroke="#1c1c1c" font-weight="normal" >MW (kDa)</text>
<text x="32.6" y="362.8" font-size="8.6" text-anchor="end" fill="#1c1c1c" stroke="#1c1c1c" font-weight="normal" >53</text>
<line x1="35.6" y1="359.7" x2="39.4" y2="359.7" stroke="#1c1c1c" stroke-width="1.1" />
<text x="32.6" y="386.1" font-size="8.6" text-anchor="end" fill="#1c1c1c" stroke="#1c1c1c" font-weight="normal" >53</text>
<line x1="35.6" y1="383.0" x2="39.4" y2="383.0" stroke="#1c1c1c" stroke-width="1.1" />
<text x="32.6" y="417.7" font-size="8.6" text-anchor="end" fill="#1c1c1c" stroke="#1c1c1c" font-weight="normal" >53</text>
<line x1="35.6" y1="414.6" x2="39.4" y2="414.6" stroke="#1c1c1c" stroke-width="1.1" />
<text x="32.6" y="435.7" font-size="8.6" text-anchor="end" fill="#1c1c1c" stroke="#1c1c1c" font-weight="normal" >41</text>
<line x1="35.6" y1="432.6" x2="39.4" y2="432.6" stroke="#1c1c1c" stroke-width="1.1" />
<text x="278.9" y="367.2" font-size="8.6" text-anchor="start" fill="#1c1c1c" stroke="#1c1c1c" font-weight="normal" >MEF2C</text>
<text x="278.9" y="390.8" font-size="8.6" text-anchor="start" fill="#1c1c1c" stroke="#1c1c1c" font-weight="normal" >pS222 MEF2C</text>
<text x="278.9" y="411.5" font-size="8.6" text-anchor="start" fill="#1c1c1c" stroke="#1c1c1c" font-weight="normal" >MEF2D</text>
<text x="278.9" y="430.5" font-size="8.6" text-anchor="start" fill="#1c1c1c" stroke="#1c1c1c" font-weight="normal" >Actin</text>
<defs><filter id="bl1" x="-50%" y="-50%" width="200%" height="200%"><feGaussianBlur stdDeviation="0.8 0.9"/></filter><filter id="bl2" x="-50%" y="-50%" width="200%" height="200%"><feGaussianBlur stdDeviation="1.2 1.4"/></filter><filter id="bl0" x="-50%" y="-50%" width="200%" height="200%"><feGaussianBlur stdDeviation="0.4"/></filter><linearGradient id="g3" x1="0" x2="1" y1="0" y2="0"><stop offset="0" stop-color="#8e8e8e"/><stop offset="0.16" stop-color="#969696"/><stop offset="0.22" stop-color="#a6a6a6"/><stop offset="0.9" stop-color="#a8a8a8"/><stop offset="1" stop-color="#9c9c9c"/></linearGradient><linearGradient id="g1" x1="0" x2="0" y1="0" y2="1"><stop offset="0" stop-color="#d7d7d7"/><stop offset="0.8" stop-color="#d4d4d4"/><stop offset="1" stop-color="#c8c8c8"/></linearGradient><clipPath id="cb1"><rect x="41" y="349.5" width="234.6" height="25.3"/></clipPath><clipPath id="cb2"><rect x="41" y="379.1" width="234.6" height="19"/></clipPath><clipPath id="cb3"><rect x="41" y="401" width="234.3" height="14.2"/></clipPath><clipPath id="cb4"><rect x="41" y="419.5" width="234.6" height="17"/></clipPath></defs>
<rect x="41.00" y="349.50" width="234.60" height="25.30" fill="url(#g1)" />
<rect x="41.00" y="379.10" width="234.60" height="19.00" fill="#d1d1d1" />
<rect x="41.00" y="401.00" width="234.30" height="14.20" fill="url(#g3)" />
<rect x="41.00" y="419.50" width="234.60" height="17.00" fill="#d0d0d0" />
<rect x="59.3" y="349.5" width="3" height="25.3" fill="#e0e0e0" opacity="0.5" filter="url(#bl2)" clip-path="url(#cb1)"/>
<rect x="59.3" y="379.1" width="3" height="19" fill="#dedede" opacity="0.5" filter="url(#bl2)" clip-path="url(#cb2)"/>
<rect x="78.9" y="349.5" width="3" height="25.3" fill="#e0e0e0" opacity="0.5" filter="url(#bl2)" clip-path="url(#cb1)"/>
<rect x="78.9" y="379.1" width="3" height="19" fill="#dedede" opacity="0.5" filter="url(#bl2)" clip-path="url(#cb2)"/>
<rect x="98.5" y="349.5" width="3" height="25.3" fill="#e0e0e0" opacity="0.5" filter="url(#bl2)" clip-path="url(#cb1)"/>
<rect x="98.5" y="379.1" width="3" height="19" fill="#dedede" opacity="0.5" filter="url(#bl2)" clip-path="url(#cb2)"/>
<rect x="118.1" y="349.5" width="3" height="25.3" fill="#e0e0e0" opacity="0.5" filter="url(#bl2)" clip-path="url(#cb1)"/>
<rect x="118.1" y="379.1" width="3" height="19" fill="#dedede" opacity="0.5" filter="url(#bl2)" clip-path="url(#cb2)"/>
<rect x="137.7" y="349.5" width="3" height="25.3" fill="#e0e0e0" opacity="0.5" filter="url(#bl2)" clip-path="url(#cb1)"/>
<rect x="137.7" y="379.1" width="3" height="19" fill="#dedede" opacity="0.5" filter="url(#bl2)" clip-path="url(#cb2)"/>
<rect x="157.3" y="349.5" width="3" height="25.3" fill="#e0e0e0" opacity="0.5" filter="url(#bl2)" clip-path="url(#cb1)"/>
<rect x="157.3" y="379.1" width="3" height="19" fill="#dedede" opacity="0.5" filter="url(#bl2)" clip-path="url(#cb2)"/>
<rect x="176.9" y="349.5" width="3" height="25.3" fill="#e0e0e0" opacity="0.5" filter="url(#bl2)" clip-path="url(#cb1)"/>
<rect x="176.9" y="379.1" width="3" height="19" fill="#dedede" opacity="0.5" filter="url(#bl2)" clip-path="url(#cb2)"/>
<rect x="196.5" y="349.5" width="3" height="25.3" fill="#e0e0e0" opacity="0.5" filter="url(#bl2)" clip-path="url(#cb1)"/>
<rect x="196.5" y="379.1" width="3" height="19" fill="#dedede" opacity="0.5" filter="url(#bl2)" clip-path="url(#cb2)"/>
<rect x="216.1" y="349.5" width="3" height="25.3" fill="#e0e0e0" opacity="0.5" filter="url(#bl2)" clip-path="url(#cb1)"/>
<rect x="216.1" y="379.1" width="3" height="19" fill="#dedede" opacity="0.5" filter="url(#bl2)" clip-path="url(#cb2)"/>
<rect x="235.7" y="349.5" width="3" height="25.3" fill="#e0e0e0" opacity="0.5" filter="url(#bl2)" clip-path="url(#cb1)"/>
<rect x="235.7" y="379.1" width="3" height="19" fill="#dedede" opacity="0.5" filter="url(#bl2)" clip-path="url(#cb2)"/>
<rect x="255.3" y="349.5" width="3" height="25.3" fill="#e0e0e0" opacity="0.5" filter="url(#bl2)" clip-path="url(#cb1)"/>
<rect x="255.3" y="379.1" width="3" height="19" fill="#dedede" opacity="0.5" filter="url(#bl2)" clip-path="url(#cb2)"/>
<rect x="46.6" y="358.3" width="11.0" height="10.9" rx="1.2" fill="#9a9a9a" filter="url(#bl1)" clip-path="url(#cb1)"/>
<rect x="46.9" y="358.6" width="10.5" height="3.0" rx="1.2" fill="#5a5a5a" filter="url(#bl1)" clip-path="url(#cb1)"/>
<rect x="46.9" y="363.2" width="10.5" height="2.0" rx="1.2" fill="#6a6a6a" filter="url(#bl1)" clip-path="url(#cb1)"/>
<rect x="46.9" y="366.2" width="10.5" height="2.4" rx="1.2" fill="#505050" filter="url(#bl1)" clip-path="url(#cb1)"/>
<rect x="85.5" y="357.0" width="10.0" height="11.0" rx="1.2" fill="#d0d0d0" filter="url(#bl2)" clip-path="url(#cb1)"/>
<rect x="105.5" y="356.5" width="11.0" height="12.0" rx="1.2" fill="#c4c4c4" filter="url(#bl2)" clip-path="url(#cb1)"/>
<rect x="107.0" y="359.0" width="8.0" height="7.0" rx="1.2" fill="#b4b4b4" filter="url(#bl2)" clip-path="url(#cb1)"/>
<rect x="125.0" y="357.0" width="10.0" height="11.0" rx="1.2" fill="#d0d0d0" filter="url(#bl2)" clip-path="url(#cb1)"/>
<rect x="143.5" y="357.0" width="11.0" height="11.0" rx="1.2" fill="#cecece" filter="url(#bl2)" clip-path="url(#cb1)"/>
<rect x="165.8" y="357.8" width="11.5" height="9.2" rx="1.2" fill="#a6a6a6" filter="url(#bl2)" clip-path="url(#cb1)"/>
<rect x="183.0" y="356.5" width="12.8" height="10.5" rx="1.2" fill="#4a4a4a" filter="url(#bl1)" clip-path="url(#cb1)"/>
<rect x="183.0" y="357.0" width="12.8" height="3.8" rx="1.2" fill="#0e0e0e" filter="url(#bl1)" clip-path="url(#cb1)"/>
<rect x="183.0" y="362.2" width="12.8" height="4.0" rx="1.2" fill="#1c1c1c" filter="url(#bl1)" clip-path="url(#cb1)"/>
<rect x="202.7" y="358.6" width="13.8" height="9.4" rx="1.2" fill="#6a6a6a" filter="url(#bl1)" clip-path="url(#cb1)"/>
<rect x="202.7" y="359.3" width="13.8" height="3.2" rx="1.2" fill="#3a3a3a" filter="url(#bl1)" clip-path="url(#cb1)"/>
<rect x="202.7" y="363.4" width="13.8" height="3.8" rx="1.2" fill="#343434" filter="url(#bl1)" clip-path="url(#cb1)"/>
<rect x="222.5" y="357.5" width="12.0" height="10.0" rx="1.2" fill="#acacac" filter="url(#bl2)" clip-path="url(#cb1)"/>
<rect x="222.5" y="358.2" width="12.0" height="2.6" rx="1.2" fill="#959595" filter="url(#bl1)" clip-path="url(#cb1)"/>
<rect x="222.5" y="363.0" width="12.0" height="3.8" rx="1.2" fill="#9a9a9a" filter="url(#bl1)" clip-path="url(#cb1)"/>
<rect x="241.5" y="355.5" width="12.0" height="8.5" rx="1.2" fill="#b0b0b0" filter="url(#bl2)" clip-path="url(#cb1)"/>
<rect x="260.8" y="357.0" width="12.0" height="9.0" rx="1.2" fill="#cacaca" filter="url(#bl2)" clip-path="url(#cb1)"/>
<rect x="46.6" y="384.6" width="11.0" height="11.6" rx="1.2" fill="#8a8a8a" filter="url(#bl1)" clip-path="url(#cb2)"/>
<rect x="46.9" y="384.8" width="10.5" height="3.4" rx="1.2" fill="#3e3e3e" filter="url(#bl1)" clip-path="url(#cb2)"/>
<rect x="46.9" y="390.4" width="10.5" height="2.0" rx="1.2" fill="#4a4a4a" filter="url(#bl1)" clip-path="url(#cb2)"/>
<rect x="46.9" y="393.4" width="10.5" height="2.4" rx="1.2" fill="#404040" filter="url(#bl1)" clip-path="url(#cb2)"/>
<rect x="85.5" y="385.0" width="10.0" height="7.0" rx="1.2" fill="#cccccc" filter="url(#bl2)" clip-path="url(#cb2)"/>
<rect x="105.5" y="384.5" width="11.0" height="8.0" rx="1.2" fill="#b4b4b4" filter="url(#bl2)" clip-path="url(#cb2)"/>
<rect x="125.0" y="385.0" width="10.0" height="7.0" rx="1.2" fill="#cdcdcd" filter="url(#bl2)" clip-path="url(#cb2)"/>
<rect x="144.0" y="385.0" width="10.0" height="7.0" rx="1.2" fill="#cdcdcd" filter="url(#bl2)" clip-path="url(#cb2)"/>
<rect x="165.8" y="384.5" width="11.5" height="7.0" rx="1.2" fill="#9e9e9e" filter="url(#bl2)" clip-path="url(#cb2)"/>
<rect x="183.0" y="383.5" width="12.8" height="9.5" rx="1.2" fill="#606060" filter="url(#bl1)" clip-path="url(#cb2)"/>
<rect x="183.0" y="383.8" width="12.8" height="2.6" rx="1.2" fill="#2e2e2e" filter="url(#bl1)" clip-path="url(#cb2)"/>
<rect x="183.0" y="388.2" width="12.8" height="4.2" rx="1.2" fill="#3c3c3c" filter="url(#bl1)" clip-path="url(#cb2)"/>
<rect x="202.7" y="384.5" width="13.8" height="7.7" rx="1.2" fill="#505050" filter="url(#bl1)" clip-path="url(#cb2)"/>
<rect x="222.5" y="384.5" width="12.0" height="7.0" rx="1.2" fill="#bdbdbd" filter="url(#bl2)" clip-path="url(#cb2)"/>
<rect x="241.5" y="384.5" width="12.0" height="7.0" rx="1.2" fill="#bababa" filter="url(#bl2)" clip-path="url(#cb2)"/>
<rect x="41" y="401" width="40" height="14.2" fill="#8a8a8a" opacity="0.6" filter="url(#bl2)" clip-path="url(#cb3)"/>
<path d="M44.5,406.8 Q50.8,410.0 57.0,406.8" stroke="#1e1e1e" stroke-width="3.2" fill="none" stroke-linecap="round" filter="url(#bl0)" clip-path="url(#cb3)"/>
<path d="M64.3,406.2 Q70.4,409.2 76.5,406.2" stroke="#242424" stroke-width="3.0" fill="none" stroke-linecap="round" filter="url(#bl0)" clip-path="url(#cb3)"/>
<path d="M85.0,404.8 Q90.2,406.0 95.5,404.8" stroke="#7c7c7c" stroke-width="1.3" fill="none" stroke-linecap="round" filter="url(#bl0)" clip-path="url(#cb3)"/>
<path d="M104.5,404.8 Q110.5,406.0 116.5,404.8" stroke="#787878" stroke-width="1.4" fill="none" stroke-linecap="round" filter="url(#bl0)" clip-path="url(#cb3)"/>
<path d="M125.0,405.2 Q130.5,406.2 136.0,405.2" stroke="#a2a2a2" stroke-width="1.0" fill="none" stroke-linecap="round" filter="url(#bl0)" clip-path="url(#cb3)"/>
<path d="M143.0,405.4 Q149.0,406.4 155.0,405.4" stroke="#969696" stroke-width="1.2" fill="none" stroke-linecap="round" filter="url(#bl0)" clip-path="url(#cb3)"/>
<path d="M164.0,405.6 Q168.5,406.6 173.0,405.6" stroke="#808080" stroke-width="2.0" fill="none" stroke-linecap="round" filter="url(#bl0)" clip-path="url(#cb3)"/>
<path d="M184.0,405.0 Q189.5,406.0 195.0,405.0" stroke="#505050" stroke-width="1.7" fill="none" stroke-linecap="round" filter="url(#bl0)" clip-path="url(#cb3)"/>
<path d="M202.0,407.6 Q208.2,408.4 214.5,407.6" stroke="#5c5c5c" stroke-width="2.0" fill="none" stroke-linecap="round" filter="url(#bl0)" clip-path="url(#cb3)"/>
<path d="M221.5,407.4 Q228.2,408.2 235.0,407.4" stroke="#4e4e4e" stroke-width="2.1" fill="none" stroke-linecap="round" filter="url(#bl0)" clip-path="url(#cb3)"/>
<path d="M243.0,408.4 Q248.8,409.2 254.5,408.4" stroke="#3e3e3e" stroke-width="2.3" fill="none" stroke-linecap="round" filter="url(#bl0)" clip-path="url(#cb3)"/>
<path d="M261.0,408.8 Q266.5,409.6 272.0,408.8" stroke="#4c4c4c" stroke-width="2.3" fill="none" stroke-linecap="round" filter="url(#bl0)" clip-path="url(#cb3)"/>
<rect x="273.6" y="401" width="1.7" height="14.2" fill="#6a6a6a" clip-path="url(#cb3)"/>
<path d="M43.5,429.2 Q43.5,426.0 45.7,426.0 L57.4,426.0 Q59.6,426.0 59.6,429.2 Q59.6,432.1 56.6,432.1 Q51.5,433.1 46.5,432.1 Q43.5,432.1 43.5,429.2 Z" fill="#0c0c0c" filter="url(#bl0)" clip-path="url(#cb4)"/>
<path d="M63.1,429.2 Q63.1,426.0 65.3,426.0 L77.4,426.0 Q79.6,426.0 79.6,429.2 Q79.6,432.1 76.6,432.1 Q71.3,433.1 66.1,432.1 Q63.1,432.1 63.1,429.2 Z" fill="#0c0c0c" filter="url(#bl0)" clip-path="url(#cb4)"/>
<path d="M83.9,428.8 Q83.9,426.6 86.1,426.6 L96.7,426.6 Q98.9,426.6 98.9,428.8 Q98.9,430.7 95.9,430.7 Q91.4,431.7 86.9,430.7 Q83.9,430.7 83.9,428.8 Z" fill="#0c0c0c" filter="url(#bl0)" clip-path="url(#cb4)"/>
<path d="M101.2,429.2 Q101.2,426.0 103.4,426.0 L117.5,426.0 Q119.7,426.0 119.7,429.2 Q119.7,432.1 116.7,432.1 Q110.5,433.1 104.2,432.1 Q101.2,432.1 101.2,429.2 Z" fill="#0c0c0c" filter="url(#bl0)" clip-path="url(#cb4)"/>
<path d="M123.1,428.8 Q123.1,426.6 125.3,426.6 L134.8,426.6 Q137.0,426.6 137.0,428.8 Q137.0,430.7 134.0,430.7 Q130.1,431.7 126.1,430.7 Q123.1,430.7 123.1,428.8 Z" fill="#0c0c0c" filter="url(#bl0)" clip-path="url(#cb4)"/>
<path d="M140.5,428.9 Q140.5,426.0 142.7,426.0 L155.6,426.0 Q157.8,426.0 157.8,428.9 Q157.8,431.5 154.8,431.5 Q149.2,432.5 143.5,431.5 Q140.5,431.5 140.5,428.9 Z" fill="#0c0c0c" filter="url(#bl0)" clip-path="url(#cb4)"/>
<path d="M161.0,429.2 Q161.0,426.2 163.2,426.2 L172.6,426.2 Q174.8,426.2 174.8,429.2 Q174.8,431.9 171.8,431.9 Q167.9,432.9 164.0,431.9 Q161.0,431.9 161.0,429.2 Z" fill="#0c0c0c" filter="url(#bl0)" clip-path="url(#cb4)"/>
<path d="M179.0,428.8 Q179.0,426.0 181.2,426.0 L192.5,426.0 Q194.7,426.0 194.7,428.8 Q194.7,431.3 191.7,431.3 Q186.8,432.3 182.0,431.3 Q179.0,431.3 179.0,428.8 Z" fill="#0c0c0c" filter="url(#bl0)" clip-path="url(#cb4)"/>
<path d="M199.5,428.9 Q199.5,425.9 201.7,425.9 L215.6,425.9 Q217.8,425.9 217.8,428.9 Q217.8,431.6 214.8,431.6 Q208.7,432.6 202.5,431.6 Q199.5,431.6 199.5,428.9 Z" fill="#0c0c0c" filter="url(#bl0)" clip-path="url(#cb4)"/>
<path d="M220.0,429.1 Q220.0,426.0 222.2,426.0 L232.1,426.0 Q234.3,426.0 234.3,429.1 Q234.3,431.9 231.3,431.9 Q227.2,432.9 223.0,431.9 Q220.0,431.9 220.0,429.1 Z" fill="#0c0c0c" filter="url(#bl0)" clip-path="url(#cb4)"/>
<path d="M239.0,428.7 Q239.0,426.2 241.2,426.2 L250.4,426.2 Q252.6,426.2 252.6,428.7 Q252.6,430.9 249.6,430.9 Q245.8,431.9 242.0,430.9 Q239.0,430.9 239.0,428.7 Z" fill="#0c0c0c" filter="url(#bl0)" clip-path="url(#cb4)"/>
<path d="M258.4,428.5 Q258.4,426.8 260.6,426.8 L267.0,426.8 Q269.2,426.8 269.2,428.5 Q269.2,429.9 266.2,429.9 Q263.8,430.9 261.4,429.9 Q258.4,429.9 258.4,428.5 Z" fill="#0c0c0c" filter="url(#bl0)" clip-path="url(#cb4)"/>
<line x1="390.4" y1="312.6" x2="390.4" y2="414.3" stroke="#1c1c1c" stroke-width="1.1" />
<line x1="389.9" y1="413.8" x2="517.8" y2="413.8" stroke="#1c1c1c" stroke-width="1.1" />
<line x1="387.6" y1="414.4" x2="390.4" y2="414.4" stroke="#1c1c1c" stroke-width="1" />
<text x="386.4" y="417.5" font-size="8.6" text-anchor="end" fill="#1c1c1c" stroke="#1c1c1c" font-weight="normal" >–6</text>
<line x1="387.6" y1="401.8" x2="390.4" y2="401.8" stroke="#1c1c1c" stroke-width="1" />
<text x="386.4" y="404.9" font-size="8.6" text-anchor="end" fill="#1c1c1c" stroke="#1c1c1c" font-weight="normal" >–4</text>
<line x1="387.6" y1="389.3" x2="390.4" y2="389.3" stroke="#1c1c1c" stroke-width="1" />
<text x="386.4" y="392.4" font-size="8.6" text-anchor="end" fill="#1c1c1c" stroke="#1c1c1c" font-weight="normal" >–2</text>
<line x1="387.6" y1="376.8" x2="390.4" y2="376.8" stroke="#1c1c1c" stroke-width="1" />
<text x="386.4" y="379.9" font-size="8.6" text-anchor="end" fill="#1c1c1c" stroke="#1c1c1c" font-weight="normal" >0</text>
<line x1="387.6" y1="364.3" x2="390.4" y2="364.3" stroke="#1c1c1c" stroke-width="1" />
<text x="386.4" y="367.4" font-size="8.6" text-anchor="end" fill="#1c1c1c" stroke="#1c1c1c" font-weight="normal" >2</text>
<line x1="387.6" y1="351.8" x2="390.4" y2="351.8" stroke="#1c1c1c" stroke-width="1" />
<text x="386.4" y="354.9" font-size="8.6" text-anchor="end" fill="#1c1c1c" stroke="#1c1c1c" font-weight="normal" >4</text>
<line x1="387.6" y1="339.2" x2="390.4" y2="339.2" stroke="#1c1c1c" stroke-width="1" />
<text x="386.4" y="342.3" font-size="8.6" text-anchor="end" fill="#1c1c1c" stroke="#1c1c1c" font-weight="normal" >6</text>
<line x1="387.6" y1="326.7" x2="390.4" y2="326.7" stroke="#1c1c1c" stroke-width="1" />
<text x="386.4" y="329.8" font-size="8.6" text-anchor="end" fill="#1c1c1c" stroke="#1c1c1c" font-weight="normal" >8</text>
<line x1="387.6" y1="314.2" x2="390.4" y2="314.2" stroke="#1c1c1c" stroke-width="1" />
<text x="386.4" y="317.3" font-size="8.6" text-anchor="end" fill="#1c1c1c" stroke="#1c1c1c" font-weight="normal" >10</text>
<line x1="411.9" y1="413.8" x2="411.9" y2="416.6" stroke="#1c1c1c" stroke-width="1" />
<line x1="454.0" y1="413.8" x2="454.0" y2="416.6" stroke="#1c1c1c" stroke-width="1" />
<line x1="496.0" y1="413.8" x2="496.0" y2="416.6" stroke="#1c1c1c" stroke-width="1" />
<text x="412.5" y="426.9" font-size="8.6" text-anchor="middle" fill="#1c1c1c" stroke="#1c1c1c" font-weight="normal" >Failure</text>
<text x="451.9" y="426.9" font-size="8.6" text-anchor="middle" fill="#1c1c1c" stroke="#1c1c1c" font-weight="normal" >Relapse</text>
<text x="496.1" y="426.9" font-size="8.6" text-anchor="middle" fill="#1c1c1c" stroke="#1c1c1c" font-weight="normal" >Complete</text>
<text x="496.1" y="437.0" font-size="8.6" text-anchor="middle" fill="#1c1c1c" stroke="#1c1c1c" font-weight="normal" >remission</text>
<text transform="translate(362.3,363.4) rotate(-90)" font-size="8.75" text-anchor="middle" fill="#1c1c1c" stroke="#1c1c1c" >pS222 MEF2C expression</text>
<text transform="translate(373.2,362.6) rotate(-90)" font-size="8.6" text-anchor="middle" fill="#1c1c1c" stroke="#1c1c1c">log<tspan font-size="6.2" dy="2">2</tspan><tspan dy="-2"> normalized to actin</tspan></text>
<circle cx="415" cy="327.5" r="1.6" fill="#c01e2e"/>
<circle cx="403" cy="338.8" r="1.6" fill="#c01e2e"/>
<circle cx="409.8" cy="337" r="1.6" fill="#c01e2e"/>
<circle cx="407.4" cy="348.5" r="1.6" fill="#c01e2e"/>
<circle cx="412.6" cy="345.6" r="1.6" fill="#c01e2e"/>
<circle cx="421.8" cy="345.6" r="1.6" fill="#c01e2e"/>
<circle cx="417" cy="348.5" r="1.6" fill="#c01e2e"/>
<circle cx="409.8" cy="352.8" r="1.6" fill="#c01e2e"/>
<circle cx="404.2" cy="356.9" r="1.6" fill="#c01e2e"/>
<circle cx="419.4" cy="354.7" r="1.6" fill="#c01e2e"/>
<circle cx="424.2" cy="354.7" r="1.6" fill="#c01e2e"/>
<circle cx="400.6" cy="360.5" r="1.6" fill="#c01e2e"/>
<circle cx="414.6" cy="361" r="1.6" fill="#c01e2e"/>
<circle cx="397.7" cy="367" r="1.6" fill="#c01e2e"/>
<circle cx="402.5" cy="368.4" r="1.6" fill="#c01e2e"/>
<circle cx="407.4" cy="365.8" r="1.6" fill="#c01e2e"/>
<circle cx="412.2" cy="367" r="1.6" fill="#c01e2e"/>
<circle cx="417" cy="367" r="1.6" fill="#c01e2e"/>
<circle cx="421.8" cy="367.7" r="1.6" fill="#c01e2e"/>
<circle cx="426.6" cy="370.8" r="1.6" fill="#c01e2e"/>
<circle cx="439.8" cy="356.9" r="1.45" fill="#9a9a9a"/>
<circle cx="443.4" cy="356.9" r="1.45" fill="#9a9a9a"/>
<circle cx="456.4" cy="353.3" r="1.45" fill="#9a9a9a"/>
<circle cx="465" cy="352.5" r="1.45" fill="#9a9a9a"/>
<circle cx="469" cy="352.5" r="1.45" fill="#9a9a9a"/>
<circle cx="448" cy="361" r="1.45" fill="#9a9a9a"/>
<circle cx="452.3" cy="362.9" r="1.45" fill="#9a9a9a"/>
<circle cx="460.7" cy="361.7" r="1.45" fill="#9a9a9a"/>
<circle cx="448" cy="367.7" r="1.45" fill="#9a9a9a"/>
<circle cx="456.4" cy="370.6" r="1.45" fill="#9a9a9a"/>
<circle cx="460.7" cy="373" r="1.45" fill="#9a9a9a"/>
<circle cx="454.2" cy="379.7" r="1.45" fill="#9a9a9a"/>
<circle cx="454.2" cy="399" r="1.45" fill="#9a9a9a"/>
<circle cx="451.8" cy="344.4" r="1.0" fill="#333"/>
<path d="M493.2,347.8 L495.09999999999997,349.7 L493.2,351.59999999999997 L491.3,349.7 Z" fill="#111"/>
<path d="M499.9,348.1 L501.79999999999995,350 L499.9,351.9 L498.0,350 Z" fill="#111"/>
<path d="M496.3,354.70000000000005 L498.2,356.6 L496.3,358.5 L494.40000000000003,356.6 Z" fill="#111"/>
<path d="M489.5,359.3 L491.4,361.2 L489.5,363.09999999999997 L487.6,361.2 Z" fill="#111"/>
<path d="M489.5,362.5 L491.4,364.4 L489.5,366.29999999999995 L487.6,364.4 Z" fill="#111"/>
<path d="M503,361.1 L504.9,363 L503,364.9 L501.1,363 Z" fill="#111"/>
<path d="M496.3,366.20000000000005 L498.2,368.1 L496.3,370.0 L494.40000000000003,368.1 Z" fill="#111"/>
<path d="M503,366.20000000000005 L504.9,368.1 L503,370.0 L501.1,368.1 Z" fill="#111"/>
<path d="M509.6,367.1 L511.5,369 L509.6,370.9 L507.70000000000005,369 Z" fill="#111"/>
<path d="M482.7,370.40000000000003 L484.59999999999997,372.3 L482.7,374.2 L480.8,372.3 Z" fill="#111"/>
<path d="M489.5,375.8 L491.4,377.7 L489.5,379.59999999999997 L487.6,377.7 Z" fill="#111"/>
<path d="M496.2,382.0 L498.09999999999997,383.9 L496.2,385.79999999999995 L494.3,383.9 Z" fill="#111"/>
<path d="M503,382.0 L504.9,383.9 L503,385.79999999999995 L501.1,383.9 Z" fill="#111"/>
<path d="M496.2,392.90000000000003 L498.09999999999997,394.8 L496.2,396.7 L494.3,394.8 Z" fill="#111"/>
<text x="496.1" y="345.0" font-size="8.2" text-anchor="middle" fill="#111" stroke="#111" font-weight="normal" >^</text>
<line x1="395.2" y1="355.1" x2="429.4" y2="355.1" stroke="#1c1c1c" stroke-width="1.3" />
<line x1="437.4" y1="365.3" x2="471.5" y2="365.3" stroke="#1c1c1c" stroke-width="1.3" />
<line x1="479.3" y1="368.5" x2="513.1" y2="368.5" stroke="#1c1c1c" stroke-width="1.3" />
<line x1="72.6" y1="479.2" x2="72.6" y2="565.2" stroke="#1c1c1c" stroke-width="1.1" />
<line x1="72.1" y1="565.2" x2="201.0" y2="565.2" stroke="#1c1c1c" stroke-width="1.1" />
<line x1="69.6" y1="564.6" x2="72.6" y2="564.6" stroke="#1c1c1c" stroke-width="1" />
<text x="68.8" y="567.7" font-size="8.6" text-anchor="end" fill="#1c1c1c" stroke="#1c1c1c" font-weight="normal" >0</text>
<line x1="69.6" y1="545.3" x2="72.6" y2="545.3" stroke="#1c1c1c" stroke-width="1" />
<text x="68.8" y="548.4" font-size="8.6" text-anchor="end" fill="#1c1c1c" stroke="#1c1c1c" font-weight="normal" >25</text>
<line x1="69.6" y1="526.0" x2="72.6" y2="526.0" stroke="#1c1c1c" stroke-width="1" />
<text x="68.8" y="529.1" font-size="8.6" text-anchor="end" fill="#1c1c1c" stroke="#1c1c1c" font-weight="normal" >50</text>
<line x1="69.6" y1="506.7" x2="72.6" y2="506.7" stroke="#1c1c1c" stroke-width="1" />
<text x="68.8" y="509.8" font-size="8.6" text-anchor="end" fill="#1c1c1c" stroke="#1c1c1c" font-weight="normal" >75</text>
<line x1="69.6" y1="487.5" x2="72.6" y2="487.5" stroke="#1c1c1c" stroke-width="1" />
<text x="68.8" y="490.6" font-size="8.6" text-anchor="end" fill="#1c1c1c" stroke="#1c1c1c" font-weight="normal" >100</text>
<line x1="73.2" y1="565.2" x2="73.2" y2="568.2" stroke="#1c1c1c" stroke-width="1" />
<text x="73.2" y="576.6" font-size="8.6" text-anchor="middle" fill="#1c1c1c" stroke="#1c1c1c" font-weight="normal" >0</text>
<line x1="98.6" y1="565.2" x2="98.6" y2="568.2" stroke="#1c1c1c" stroke-width="1" />
<text x="98.6" y="576.6" font-size="8.6" text-anchor="middle" fill="#1c1c1c" stroke="#1c1c1c" font-weight="normal" >2</text>
<line x1="123.9" y1="565.2" x2="123.9" y2="568.2" stroke="#1c1c1c" stroke-width="1" />
<text x="123.9" y="576.6" font-size="8.6" text-anchor="middle" fill="#1c1c1c" stroke="#1c1c1c" font-weight="normal" >4</text>
<line x1="149.3" y1="565.2" x2="149.3" y2="568.2" stroke="#1c1c1c" stroke-width="1" />
<text x="149.3" y="576.6" font-size="8.6" text-anchor="middle" fill="#1c1c1c" stroke="#1c1c1c" font-weight="normal" >6</text>
<line x1="174.6" y1="565.2" x2="174.6" y2="568.2" stroke="#1c1c1c" stroke-width="1" />
<text x="174.6" y="576.6" font-size="8.6" text-anchor="middle" fill="#1c1c1c" stroke="#1c1c1c" font-weight="normal" >8</text>
<line x1="200.0" y1="565.2" x2="200.0" y2="568.2" stroke="#1c1c1c" stroke-width="1" />
<text x="200.0" y="576.6" font-size="8.6" text-anchor="middle" fill="#1c1c1c" stroke="#1c1c1c" font-weight="normal" >10</text>
<text x="137.0" y="589.3" font-size="8.6" text-anchor="middle" fill="#1c1c1c" stroke="#1c1c1c" font-weight="normal" >Years</text>
<text transform="translate(47.3,521.8) rotate(-90)" font-size="8.6" text-anchor="middle" fill="#1c1c1c" stroke="#1c1c1c" >Event-free survival (%)</text>
<text x="149.4" y="505.0" font-size="8.6" text-anchor="middle" fill="#1c1c1c" stroke="#1c1c1c" font-weight="normal" >Low pS222 MEF2C</text>
<text x="149.4" y="514.9" font-size="8.6" text-anchor="middle" fill="#bf3448" stroke="#bf3448" font-weight="normal" >High pS222 MEF2C</text>
<path d="M73.2,487.5 H73.4 V494.4 H74.5 V499.8 H75.2 V505.2 H76.0 V509.8 H77.5 V512.1 H78.3 V514.5 H79.8 V516.0 H80.6 V517.5 H81.9 V518.7 H82.8 V521.0 H83.6 V524.3 H99.3 V527.6 H101.3 V533.0 H147.1 V539.1 H191.1" fill="none" stroke="#1c1c1c" stroke-width="1.1"/>
<path d="M73.2,487.5 H73.5 V495.2 H73.8 V502.9 H74.3 V514.5 H74.7 V526.0 H75.0 V532.5 H81.3 V534.8 H83.1 V540.7 H84.1 V544.5 H88.9 V548.0 H115.0 V552.3 H179.7" fill="none" stroke="#c9283a" stroke-width="1.1"/>
<line x1="123.9" y1="531.4" x2="123.9" y2="533.2" stroke="#1c1c1c" stroke-width="0.9" />
<line x1="127.1" y1="531.4" x2="127.1" y2="533.2" stroke="#1c1c1c" stroke-width="0.9" />
<line x1="150.5" y1="537.5" x2="150.5" y2="539.3" stroke="#1c1c1c" stroke-width="0.9" />
<line x1="155.6" y1="537.5" x2="155.6" y2="539.3" stroke="#1c1c1c" stroke-width="0.9" />
<line x1="191.1" y1="537.5" x2="191.1" y2="539.3" stroke="#1c1c1c" stroke-width="0.9" />
<line x1="101.1" y1="526.0" x2="101.1" y2="527.8" stroke="#1c1c1c" stroke-width="0.9" />
<line x1="127.7" y1="550.7" x2="127.7" y2="552.5" stroke="#bf3448" stroke-width="0.9" />
<line x1="136.6" y1="550.7" x2="136.6" y2="552.5" stroke="#bf3448" stroke-width="0.9" />
<line x1="179.7" y1="550.7" x2="179.7" y2="552.5" stroke="#bf3448" stroke-width="0.9" />
<line x1="94.8" y1="546.4" x2="94.8" y2="548.2" stroke="#bf3448" stroke-width="0.9" />
<line x1="104.9" y1="546.4" x2="104.9" y2="548.2" stroke="#bf3448" stroke-width="0.9" />
<line x1="333.8" y1="476.7" x2="333.8" y2="563.0" stroke="#1c1c1c" stroke-width="1.1" />
<line x1="333.3" y1="563.0" x2="427.0" y2="563.0" stroke="#1c1c1c" stroke-width="1.1" />
<line x1="330.8" y1="562.4" x2="333.8" y2="562.4" stroke="#1c1c1c" stroke-width="1" />
<text x="329.6" y="565.5" font-size="8.6" text-anchor="end" fill="#1c1c1c" stroke="#1c1c1c" font-weight="normal" >0.0</text>
<line x1="334.3" y1="563.0" x2="334.3" y2="566.0" stroke="#1c1c1c" stroke-width="1" />
<text x="334.3" y="574.3" font-size="8.6" text-anchor="middle" fill="#1c1c1c" stroke="#1c1c1c" font-weight="normal" >0.0</text>
<line x1="330.8" y1="545.4" x2="333.8" y2="545.4" stroke="#1c1c1c" stroke-width="1" />
<text x="329.6" y="548.5" font-size="8.6" text-anchor="end" fill="#1c1c1c" stroke="#1c1c1c" font-weight="normal" >0.2</text>
<line x1="352.7" y1="563.0" x2="352.7" y2="566.0" stroke="#1c1c1c" stroke-width="1" />
<text x="352.7" y="574.3" font-size="8.6" text-anchor="middle" fill="#1c1c1c" stroke="#1c1c1c" font-weight="normal" >0.2</text>
<line x1="330.8" y1="528.3" x2="333.8" y2="528.3" stroke="#1c1c1c" stroke-width="1" />
<text x="329.6" y="531.4" font-size="8.6" text-anchor="end" fill="#1c1c1c" stroke="#1c1c1c" font-weight="normal" >0.4</text>
<line x1="371.1" y1="563.0" x2="371.1" y2="566.0" stroke="#1c1c1c" stroke-width="1" />
<text x="371.1" y="574.3" font-size="8.6" text-anchor="middle" fill="#1c1c1c" stroke="#1c1c1c" font-weight="normal" >0.4</text>
<line x1="330.8" y1="511.3" x2="333.8" y2="511.3" stroke="#1c1c1c" stroke-width="1" />
<text x="329.6" y="514.4" font-size="8.6" text-anchor="end" fill="#1c1c1c" stroke="#1c1c1c" font-weight="normal" >0.6</text>
<line x1="389.5" y1="563.0" x2="389.5" y2="566.0" stroke="#1c1c1c" stroke-width="1" />
<text x="389.5" y="574.3" font-size="8.6" text-anchor="middle" fill="#1c1c1c" stroke="#1c1c1c" font-weight="normal" >0.6</text>
<line x1="330.8" y1="494.2" x2="333.8" y2="494.2" stroke="#1c1c1c" stroke-width="1" />
<text x="329.6" y="497.3" font-size="8.6" text-anchor="end" fill="#1c1c1c" stroke="#1c1c1c" font-weight="normal" >0.8</text>
<line x1="407.9" y1="563.0" x2="407.9" y2="566.0" stroke="#1c1c1c" stroke-width="1" />
<text x="407.9" y="574.3" font-size="8.6" text-anchor="middle" fill="#1c1c1c" stroke="#1c1c1c" font-weight="normal" >0.8</text>
<line x1="330.8" y1="477.2" x2="333.8" y2="477.2" stroke="#1c1c1c" stroke-width="1" />
<text x="329.6" y="480.3" font-size="8.6" text-anchor="end" fill="#1c1c1c" stroke="#1c1c1c" font-weight="normal" >1.0</text>
<line x1="426.3" y1="563.0" x2="426.3" y2="566.0" stroke="#1c1c1c" stroke-width="1" />
<text x="426.3" y="574.3" font-size="8.6" text-anchor="middle" fill="#1c1c1c" stroke="#1c1c1c" font-weight="normal" >1.0</text>
<text x="380.8" y="587.0" font-size="8.6" text-anchor="middle" fill="#1c1c1c" stroke="#1c1c1c" font-weight="normal" >1-Specificity</text>
<text transform="translate(312.3,518.7) rotate(-90)" font-size="8.6" text-anchor="middle" fill="#1c1c1c" stroke="#1c1c1c" >Sensitivity</text>
<text x="399.5" y="539.4" font-size="8.6" text-anchor="middle" fill="#1c1c1c" stroke="#1c1c1c" font-weight="normal" >High pS222</text>
<text x="399.8" y="548.5" font-size="8.6" text-anchor="middle" fill="#1c1c1c" stroke="#1c1c1c" font-weight="normal" >MEF2C</text>
<line x1="334.3" y1="562.4" x2="426.3" y2="477.2" stroke="#1c1c1c" stroke-width="1.25" stroke-dasharray="4,2.6"/>
<path d="M334.3,562.4 L334.3,551.8 L338.3,551.8 L338.3,537.5 L346.3,537.5 L346.3,530.4 L350.3,530.4 L350.3,526.9 L354.3,526.9 L354.3,512.7 L374.3,512.7 L374.3,509.1 L382.3,509.1 L382.3,491.4 L394.3,491.4 L394.3,487.8 L402.3,487.8 L402.3,480.8 L422.3,480.8 L422.3,477.2 L426.3,477.2" fill="none" stroke="#111" stroke-width="1.2"/>
<rect x="393.4" y="486.9" width="1.8" height="1.8" fill="#111"/>
<rect x="405.4" y="479.9" width="1.8" height="1.8" fill="#111"/>
<rect x="349.4" y="529.5" width="1.8" height="1.8" fill="#111"/>
<rect x="345.4" y="536.6" width="1.8" height="1.8" fill="#111"/>
<rect x="381.4" y="504.7" width="1.8" height="1.8" fill="#111"/>
<rect x="413.4" y="479.9" width="1.8" height="1.8" fill="#111"/>
<rect x="381.4" y="494.1" width="1.8" height="1.8" fill="#111"/>
<rect x="353.4" y="515.4" width="1.8" height="1.8" fill="#111"/>
<rect x="421.4" y="479.9" width="1.8" height="1.8" fill="#111"/>
<rect x="333.4" y="554.4" width="1.8" height="1.8" fill="#111"/>
<rect x="353.4" y="526.0" width="1.8" height="1.8" fill="#111"/>
<rect x="369.4" y="511.8" width="1.8" height="1.8" fill="#111"/>
<rect x="401.4" y="486.9" width="1.8" height="1.8" fill="#111"/>
<rect x="337.4" y="540.2" width="1.8" height="1.8" fill="#111"/>
<rect x="337.4" y="550.9" width="1.8" height="1.8" fill="#111"/>
<rect x="373.4" y="508.2" width="1.8" height="1.8" fill="#111"/>
<rect x="385.4" y="490.5" width="1.8" height="1.8" fill="#111"/>
<rect x="357.4" y="511.8" width="1.8" height="1.8" fill="#111"/>
<rect x="393.4" y="490.5" width="1.8" height="1.8" fill="#111"/>
<rect x="345.4" y="529.5" width="1.8" height="1.8" fill="#111"/>
<rect x="381.4" y="508.2" width="1.8" height="1.8" fill="#111"/>
<rect x="381.4" y="497.6" width="1.8" height="1.8" fill="#111"/>
<rect x="425.4" y="476.3" width="1.8" height="1.8" fill="#111"/>
<rect x="353.4" y="518.9" width="1.8" height="1.8" fill="#111"/>
<rect x="333.4" y="558.0" width="1.8" height="1.8" fill="#111"/>
<rect x="365.4" y="511.8" width="1.8" height="1.8" fill="#111"/>
<rect x="401.4" y="479.9" width="1.8" height="1.8" fill="#111"/>
<rect x="341.4" y="536.6" width="1.8" height="1.8" fill="#111"/>
<rect x="337.4" y="543.8" width="1.8" height="1.8" fill="#111"/>
<rect x="373.4" y="511.8" width="1.8" height="1.8" fill="#111"/>
<rect x="409.4" y="479.9" width="1.8" height="1.8" fill="#111"/>
<rect x="397.4" y="486.9" width="1.8" height="1.8" fill="#111"/>
<rect x="417.4" y="479.9" width="1.8" height="1.8" fill="#111"/>
<rect x="349.4" y="526.0" width="1.8" height="1.8" fill="#111"/>
<rect x="345.4" y="533.1" width="1.8" height="1.8" fill="#111"/>
<rect x="381.4" y="501.1" width="1.8" height="1.8" fill="#111"/>
<rect x="353.4" y="522.5" width="1.8" height="1.8" fill="#111"/>
<rect x="381.4" y="490.5" width="1.8" height="1.8" fill="#111"/>
<rect x="333.4" y="561.5" width="1.8" height="1.8" fill="#111"/>
<rect x="353.4" y="511.8" width="1.8" height="1.8" fill="#111"/>
<rect x="421.4" y="476.3" width="1.8" height="1.8" fill="#111"/>
<rect x="333.4" y="550.9" width="1.8" height="1.8" fill="#111"/>
<rect x="389.4" y="490.5" width="1.8" height="1.8" fill="#111"/>
<rect x="337.4" y="547.3" width="1.8" height="1.8" fill="#111"/>
<rect x="401.4" y="483.4" width="1.8" height="1.8" fill="#111"/>
<rect x="337.4" y="536.6" width="1.8" height="1.8" fill="#111"/>
<rect x="377.4" y="508.2" width="1.8" height="1.8" fill="#111"/>
<rect x="361.4" y="511.8" width="1.8" height="1.8" fill="#111"/>
</svg></body></html>
